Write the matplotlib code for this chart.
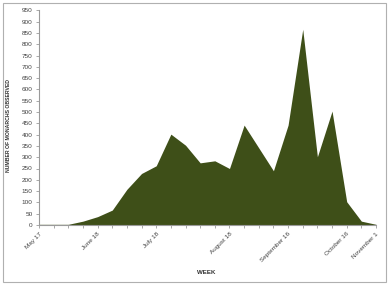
import matplotlib
matplotlib.use("Agg")
import matplotlib.pyplot as plt
from matplotlib.patches import Rectangle
import numpy as np

weeks = ["May 17", "", "", "", "June 18", "", "", "", "July 18", "", "", "", "",
         "August 18", "", "", "", "September 16", "", "", "", "October 16", "", "November 1"]
monarchs = [3, 3, 3, 17, 37, 66, 158, 228, 262, 402, 353, 275, 284, 250, 442, 341,
            240, 442, 866, 302, 504, 103, 17, 3]
y_ticks = list(range(0, 951, 50))

plt.rcParams['font.family'] = ['Liberation Sans Narrow', 'Liberation Sans', 'DejaVu Sans']

fig = plt.figure(figsize=(3.9, 2.85), dpi=100)
ax = fig.add_axes([39/390, 1 - 225/285, (376 - 39)/390, (225 - 10.3)/285])

x = np.arange(len(monarchs))
ax.fill_between(x, monarchs, 0, color='#3e4f18', linewidth=0)

ax.set_xlim(0, len(monarchs) - 1)
ax.set_ylim(0, 950)
ax.set_yticks(y_ticks)
ax.set_yticklabels([str(v) for v in y_ticks], fontsize=4.6, color='#404040')
ax.set_xticks(x)
ax.set_xticklabels(weeks, rotation=45, ha='right', rotation_mode='anchor',
                   fontsize=4.6, color='#404040')

for s in ['top', 'right']:
    ax.spines[s].set_visible(False)
for s in ['left', 'bottom']:
    ax.spines[s].set_color('#9a9a9a')
    ax.spines[s].set_linewidth(0.8)
ax.tick_params(axis='both', color='#9a9a9a', length=2.5, width=0.6, pad=2)

ax.set_xlabel("WEEK", fontsize=4.4, fontweight='bold', color='#303030')
ax.set_ylabel("NUMBER OF MONARCHS OBSERVED", fontsize=3.7, fontweight='bold',
              color='#303030')
ax.xaxis.set_label_coords((206.5 - 39) / (376 - 39), -(270 - 225) / (225 - 10.3))
ax.yaxis.set_label_coords(-(39 - 11) / (376 - 39), (225 - 126) / (225 - 10.3))

fig.patches.append(Rectangle((2.5/390, 3/285), 383/390, 279/285, transform=fig.transFigure,
                             fill=False, edgecolor='#b0b0b0', linewidth=0.8))

fig.savefig("out.png", dpi=100)
